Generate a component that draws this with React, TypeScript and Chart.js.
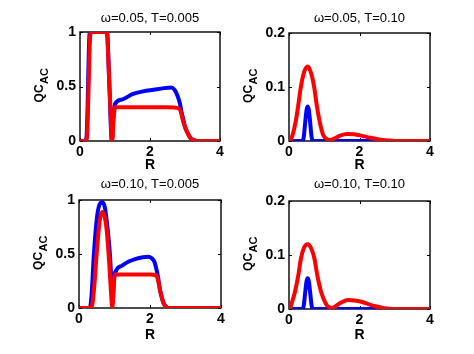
import React, { useEffect, useRef } from "react";
import { Chart, registerables } from "chart.js";

Chart.register(...registerables);

// ---------- data ----------
const X_TICKS = [0, 2, 4];
const Y_TICKS_BIG = [0, 0.5, 1];
const Y_TICKS_SMALL = [0, 0.1, 0.2];

// panel 1: ω=0.05, T=0.005
const P1_RED_X = [0, 0.15, 0.2, 0.22, 0.25, 0.28, 0.31, 0.5, 0.77, 0.8, 0.85, 0.9, 0.92, 0.96, 1.0, 1.5, 2.0, 2.5, 2.82, 2.88, 2.93, 3.0, 3.08, 3.15, 3.25, 3.35, 4];
const P1_RED_Y = [0, 0, 0.03, 0.2, 0.55, 0.9, 1, 1, 1, 0.82, 0.45, 0.05, 0, 0.2, 0.31, 0.31, 0.31, 0.31, 0.3, 0.27, 0.2, 0.13, 0.07, 0.03, 0.008, 0, 0];
const P1_BLUE_X = [0, 0.15, 0.19, 0.22, 0.25, 0.28, 0.5, 0.77, 0.84, 0.91, 0.95, 1.0, 1.2, 1.5, 1.8, 2.1, 2.4, 2.6, 2.7, 2.78, 2.85, 2.9, 2.95, 3.0, 3.08, 3.15, 3.25, 3.35, 4];
const P1_BLUE_Y = [0, 0, 0.05, 0.35, 0.8, 1, 1, 1, 0.5, 0, 0.2, 0.34, 0.38, 0.43, 0.455, 0.47, 0.485, 0.49, 0.47, 0.42, 0.35, 0.27, 0.2, 0.13, 0.07, 0.03, 0.008, 0, 0];

// panel 2: ω=0.05, T=0.10
const P2_RED_X = [0, 0.03, 0.1, 0.19, 0.265, 0.33, 0.43, 0.53, 0.63, 0.72, 0.785, 0.87, 0.97, 1.06, 1.16, 1.3, 1.45, 1.65, 1.85, 2.05, 2.3, 2.55, 2.8, 3.0, 4];
const P2_RED_Y = [0, 0.001, 0.011, 0.036, 0.067, 0.0975, 0.128, 0.138, 0.125, 0.0975, 0.067, 0.036, 0.011, 0.004, 0.002, 0.005, 0.01, 0.013, 0.0125, 0.01, 0.006, 0.003, 0.001, 0, 0];
const P2_BLUE_X = [0, 0.38, 0.42, 0.46, 0.5, 0.53, 0.56, 0.6, 0.64, 0.68, 4];
const P2_BLUE_Y = [0, 0, 0.008, 0.035, 0.058, 0.064, 0.058, 0.035, 0.008, 0, 0];

// panel 3: ω=0.10, T=0.005
const P3_RED_X = [0, 0.33, 0.38, 0.43, 0.5, 0.58, 0.65, 0.72, 0.78, 0.85, 0.9, 0.94, 0.97, 1.01, 1.1, 1.5, 2.0, 2.18, 2.23, 2.28, 2.33, 2.38, 2.44, 2.5, 4];
const P3_RED_Y = [0, 0, 0.04, 0.2, 0.51, 0.8, 0.89, 0.85, 0.72, 0.42, 0.15, 0, 0.15, 0.31, 0.31, 0.31, 0.31, 0.3, 0.25, 0.17, 0.1, 0.046, 0.015, 0, 0];
const P3_BLUE_X = [0, 0.3, 0.35, 0.42, 0.5, 0.58, 0.66, 0.73, 0.8, 0.87, 0.92, 0.95, 0.98, 1.05, 1.2, 1.4, 1.6, 1.8, 1.95, 2.05, 2.12, 2.18, 2.23, 2.28, 2.33, 2.38, 2.44, 2.5, 4];
const P3_BLUE_Y = [0, 0, 0.1, 0.5, 0.82, 0.96, 0.98, 0.93, 0.75, 0.5, 0.2, 0.05, 0.25, 0.35, 0.39, 0.43, 0.455, 0.47, 0.475, 0.46, 0.43, 0.36, 0.28, 0.17, 0.1, 0.046, 0.015, 0, 0];

// panel 4: ω=0.10, T=0.10
const P4_RED_X = [0, 0.03, 0.076, 0.17, 0.265, 0.34, 0.43, 0.53, 0.63, 0.72, 0.8, 0.91, 1.04, 1.12, 1.21, 1.32, 1.48, 1.68, 1.85, 2.05, 2.25, 2.45, 2.7, 2.9, 4];
const P4_RED_Y = [0, 0.001, 0.0105, 0.032, 0.063, 0.094, 0.114, 0.12, 0.112, 0.094, 0.063, 0.032, 0.0105, 0.004, 0.002, 0.005, 0.012, 0.0167, 0.0158, 0.0135, 0.009, 0.005, 0.0015, 0, 0];
const P4_BLUE_X = [0, 0.38, 0.42, 0.46, 0.5, 0.53, 0.56, 0.6, 0.64, 0.68, 4];
const P4_BLUE_Y = [0, 0, 0.007, 0.031, 0.052, 0.057, 0.052, 0.031, 0.007, 0, 0];

const TITLES = ["ω=0.05, T=0.005", "ω=0.05, T=0.10", "ω=0.10, T=0.005", "ω=0.10, T=0.10"];
const X_LABEL = "R";

// ---------- layout ----------
const W = 237;
const H = 177;
const FONT = "'Liberation Sans', Arial, Helvetica, sans-serif";

type Area = { l: number; t: number; r: number; b: number };
type PanelDef = {
  title: string;
  left: number;
  top: number;
  area: Area;
  titleCenter: number;
  rCenter: number;
  yMax: number;
  yTicks: number[];
  redX: number[];
  redY: number[];
  blueX: number[];
  blueY: number[];
};

const PANELS: PanelDef[] = [
  { title: TITLES[0], left: 0, top: 0, area: { l: 80, t: 32, r: 220, b: 141 }, titleCenter: 18, rCenter: 165, yMax: 1, yTicks: Y_TICKS_BIG, redX: P1_RED_X, redY: P1_RED_Y, blueX: P1_BLUE_X, blueY: P1_BLUE_Y },
  { title: TITLES[1], left: 237, top: 0, area: { l: 52, t: 33, r: 193, b: 141 }, titleCenter: 18, rCenter: 165, yMax: 0.2, yTicks: Y_TICKS_SMALL, redX: P2_RED_X, redY: P2_RED_Y, blueX: P2_BLUE_X, blueY: P2_BLUE_Y },
  { title: TITLES[2], left: 0, top: 167, area: { l: 79, t: 33, r: 221, b: 141 }, titleCenter: 17, rCenter: 168, yMax: 1, yTicks: Y_TICKS_BIG, redX: P3_RED_X, redY: P3_RED_Y, blueX: P3_BLUE_X, blueY: P3_BLUE_Y },
  { title: TITLES[3], left: 237, top: 167, area: { l: 52, t: 34, r: 193, b: 142 }, titleCenter: 17, rCenter: 168, yMax: 0.2, yTicks: Y_TICKS_SMALL, redX: P4_RED_X, redY: P4_RED_Y, blueX: P4_BLUE_X, blueY: P4_BLUE_Y },
];

const toPoints = (xs: number[], ys: number[]) => xs.map((x, i) => ({ x, y: ys[i] }));

const framePlugin = {
  id: "matlabFrame",
  beforeDatasetsDraw(chart: any) {
    const { ctx, chartArea, scales } = chart;
    const l = Math.round(chartArea.left);
    const r = Math.round(chartArea.right);
    const t = Math.round(chartArea.top);
    const b = Math.round(chartArea.bottom);
    ctx.save();
    ctx.strokeStyle = "#000";
    ctx.lineWidth = 1.4;
    ctx.strokeRect(l, t, r - l, b - t);
    const tl = 3;
    ctx.lineWidth = 1;
    ctx.beginPath();
    for (const v of X_TICKS) {
      const px = Math.round(scales.x.getPixelForValue(v)) + 0.5;
      ctx.moveTo(px, b);
      ctx.lineTo(px, b - tl);
      ctx.moveTo(px, t);
      ctx.lineTo(px, t + tl);
    }
    for (const tk of scales.y.ticks) {
      const py = Math.round(scales.y.getPixelForValue(tk.value)) + 0.5;
      ctx.moveTo(l, py);
      ctx.lineTo(l + tl, py);
      ctx.moveTo(r, py);
      ctx.lineTo(r - tl, py);
    }
    ctx.stroke();
    ctx.restore();
  },
};

const labelsPlugin = {
  id: "matlabLabels",
  afterDraw(chart: any, _args: any, opts: any) {
    const { ctx, chartArea } = chart;
    const midX = (chartArea.left + chartArea.right) / 2;
    ctx.save();
    ctx.fillStyle = "#000";
    // title
    ctx.font = `13px ${FONT}`;
    ctx.textAlign = "center";
    ctx.textBaseline = "middle";
    ctx.fillText(opts.title, midX, opts.titleCenter);
    // x label
    ctx.font = `bold 14px ${FONT}`;
    ctx.fillText(X_LABEL, midX, opts.rCenter);
    // y label QC_AC
    const cx = chartArea.left - 37;
    const cy = (chartArea.top + chartArea.bottom) / 2 - 1;
    ctx.translate(cx, cy);
    ctx.rotate(-Math.PI / 2);
    ctx.textBaseline = "alphabetic";
    ctx.textAlign = "left";
    ctx.font = `bold 12px ${FONT}`;
    const w1 = ctx.measureText("QC").width;
    ctx.font = `bold 11px ${FONT}`;
    const w2 = ctx.measureText("AC").width;
    const start = -(w1 + w2) / 2;
    ctx.font = `bold 12px ${FONT}`;
    ctx.fillText("QC", start, 0);
    ctx.font = `bold 11px ${FONT}`;
    ctx.fillText("AC", start + w1 + 0.5, 5);
    ctx.restore();
  },
};

function Panel({ p }: { p: PanelDef }) {
  const ref = useRef<HTMLCanvasElement | null>(null);
  useEffect(() => {
    if (!ref.current) return;
    const a = p.area;
    const chart = new Chart(ref.current, {
      type: "line",
      data: {
        datasets: [
          {
            data: toPoints(p.redX, p.redY),
            borderColor: "#ff0000",
            backgroundColor: "#ff0000",
            borderWidth: 4,
            pointRadius: 0,
            cubicInterpolationMode: "monotone",
            fill: false,
          },
          {
            data: toPoints(p.blueX, p.blueY),
            borderColor: "#0000ff",
            backgroundColor: "#0000ff",
            borderWidth: 4,
            pointRadius: 0,
            cubicInterpolationMode: "monotone",
            fill: false,
          },
        ],
      },
      options: {
        responsive: false,
        animation: false,
        layout: { padding: { left: 0, top: a.t, right: W - a.r, bottom: 0 } },
        plugins: {
          legend: { display: false },
          tooltip: { enabled: false },
          title: { display: false },
          matlabLabels: { title: p.title, titleCenter: p.titleCenter, rCenter: p.rCenter },
        },
        scales: {
          x: {
            type: "linear",
            min: 0,
            max: 4,
            grid: { display: false, drawTicks: false },
            border: { display: false },
            afterBuildTicks: (s: any) => {
              s.ticks = X_TICKS.map((v) => ({ value: v }));
            },
            afterFit: (s: any) => {
              s.height = H - a.b;
            },
            ticks: {
              color: "#000",
              padding: 3,
              maxRotation: 0,
              font: { family: FONT, size: 14, weight: "bold" },
              callback: (v: any) => String(v),
            },
            title: { display: false },
          },
          y: {
            type: "linear",
            min: 0,
            max: p.yMax,
            grid: { display: false, drawTicks: false },
            border: { display: false },
            afterBuildTicks: (s: any) => {
              s.ticks = p.yTicks.map((v) => ({ value: v }));
            },
            afterFit: (s: any) => {
              s.width = a.l;
            },
            ticks: {
              color: "#000",
              padding: 4,
              font: { family: FONT, size: 14, weight: "bold" },
              callback: (v: any) => String(v),
            },
          },
        },
      },
      plugins: [framePlugin, labelsPlugin],
    } as any);
    return () => chart.destroy();
  }, [p]);
  return (
    <canvas
      ref={ref}
      width={W}
      height={H}
      style={{ position: "absolute", left: p.left, top: p.top, width: W, height: H }}
    />
  );
}

export default function App() {
  return (
    <div style={{ position: "absolute", left: 0, top: 0, width: 474, height: 354, background: "#fff", overflow: "hidden" }}>
      {PANELS.map((p, i) => (
        <Panel key={i} p={p} />
      ))}
    </div>
  );
}
